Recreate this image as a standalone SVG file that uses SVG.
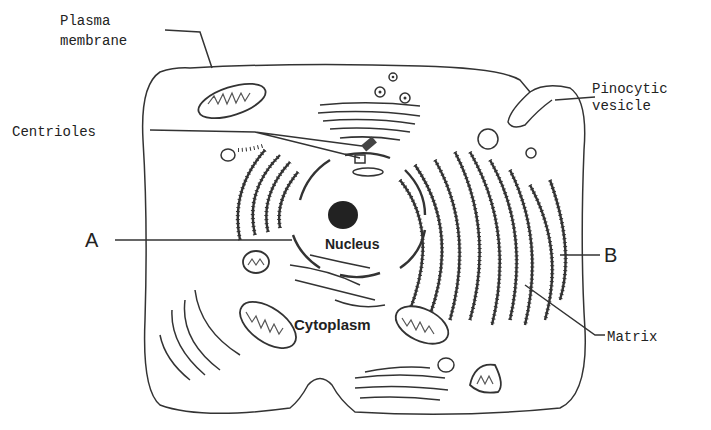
<svg xmlns="http://www.w3.org/2000/svg" width="711" height="430" viewBox="0 0 711 430">
<style>
.l{fill:none;stroke:#333;stroke-width:1.5}
.t{fill:#222;font-family:"Liberation Mono",monospace;font-size:14px}
.er{fill:none;stroke:#333;stroke-width:2.4}
.rb{fill:none;stroke:#333;stroke-width:4;stroke-dasharray:1 3}
.mi{fill:#fff;stroke:#333;stroke-width:1.8}
.cr{fill:none;stroke:#555;stroke-width:1.2}
</style>
<rect width="711" height="430" fill="#fff"/>
<g id="cell">
<path class="l" d="M190,68 Q300,62 420,66 Q500,68 520,80 L530,92 Q545,82 570,88 Q588,100 584,150 Q580,250 585,330 Q588,395 560,408 Q460,418 355,412 Q340,400 332,385 Q320,372 308,385 Q300,400 290,408 Q200,420 160,405 Q142,390 145,320 Q148,220 143,140 Q140,85 160,72 Q175,67 190,68 Z"/>
<path class="l" d="M530,92 Q510,110 508,122 Q512,130 525,125 Q538,110 552,100"/>
</g>
<g id="nucleus">
<path class="er" d="M300,200 A70,70 0 0 1 330,160 M345,155 Q370,150 390,158 M405,170 Q425,190 425,215 M425,230 Q420,255 400,268 M380,273 Q360,280 340,275 M320,268 Q300,255 293,235"/>
<ellipse cx="343" cy="215" rx="15" ry="14" fill="#222"/>
</g>
<g id="golgi">
<path class="l" d="M320,105 Q370,100 420,106 M318,113 Q370,109 420,116 M323,121 Q370,117 415,124 M330,129 Q370,126 410,132 M340,138 Q370,135 400,140"/>
<circle class="l" cx="380" cy="92" r="5"/><circle class="l" cx="405" cy="98" r="5"/><circle class="l" cx="393" cy="77" r="4"/>
<circle cx="380" cy="92" r="1.5" fill="#333"/><circle cx="405" cy="98" r="1.5" fill="#333"/><circle cx="393" cy="77" r="1.3" fill="#333"/>
</g>
<g id="centrioles">
<rect x="362" y="140" width="14" height="8" transform="rotate(-40 369 144)" fill="#444"/>
<rect x="355" y="155" width="10" height="8" class="l"/>
</g>
<g id="er-left">
<path class="rb" d="M240,240 Q230,190 265,150 M255,235 Q245,190 280,155 M268,232 Q260,195 290,162 M280,228 Q275,200 298,172 M238,150 Q250,150 265,145"/>
<path class="er" d="M240,240 Q230,190 265,150 M255,235 Q245,190 280,155 M268,232 Q260,195 290,162 M280,228 Q275,200 298,172"/>
</g>
<g id="er-right">
<path class="rb" d="M400,180 Q440,230 410,310 M415,165 Q460,230 430,315 M435,160 Q475,230 450,320 M455,152 Q495,230 470,320 M470,152 Q515,230 492,325 M490,160 Q530,230 510,320 M510,170 Q545,240 525,325 M530,185 Q565,250 545,320 M550,180 Q575,250 560,300"/>
<path class="er" d="M400,180 Q440,230 410,310 M415,165 Q460,230 430,315 M435,160 Q475,230 450,320 M455,152 Q495,230 470,320 M470,152 Q515,230 492,325 M490,160 Q530,230 510,320 M510,170 Q545,240 525,325 M530,185 Q565,250 545,320 M550,180 Q575,250 560,300"/>
</g>
<g id="er-smooth">
<path class="l" d="M290,265 Q330,270 360,285 M295,280 Q335,290 375,300 M310,255 Q340,262 370,268 M335,300 Q360,310 385,305 M185,300 Q180,340 220,370 M172,310 Q170,345 205,375 M195,290 Q200,330 240,355 M160,335 Q165,360 190,380 M355,378 Q400,372 445,378 M355,388 Q400,384 448,390 M360,398 Q400,395 440,400 M365,372 Q400,365 430,368"/>
</g>
<g id="mitochondria">
<ellipse class="mi" cx="232" cy="101" rx="35" ry="14" transform="rotate(-18 232 101)"/>
<path class="cr" d="M208,104 l6,-8 l4,8 l5,-10 l4,10 l5,-11 l4,10 l5,-10 l4,8 l5,-8"/>
<ellipse class="mi" cx="268" cy="325" rx="32" ry="17" transform="rotate(35 268 325)"/>
<path class="cr" d="M246,312 l6,10 l4,-6 l5,12 l4,-8 l5,12 l4,-8 l5,10 l4,-6"/>
<ellipse class="mi" cx="422" cy="325" rx="28" ry="16" transform="rotate(25 422 325)"/>
<path class="cr" d="M402,318 l5,8 l4,-6 l5,10 l4,-8 l5,10 l4,-6 l5,8"/>
<ellipse class="mi" cx="256" cy="262" rx="13" ry="11"/>
<path class="cr" d="M248,265 l4,-6 l4,6 l4,-6 l4,6"/>
<path class="mi" d="M470,385 Q475,362 495,365 Q505,385 498,392 Q480,395 470,385 Z"/>
<path class="cr" d="M477,384 l4,-8 l4,8 l4,-8 l4,8"/>
</g>
<g id="vesicles">
<circle class="l" cx="488" cy="139" r="10"/>
<ellipse class="l" cx="228" cy="155" rx="7" ry="6"/>
<ellipse class="l" cx="531" cy="153" rx="5" ry="5"/>
<ellipse class="l" cx="446" cy="365" rx="8" ry="7"/>
<ellipse class="l" cx="368" cy="172" rx="15" ry="4"/>
</g>
<g id="connectors" class="l">
<path d="M165,30 L200,32 L212,68"/>
<path d="M555,100 L595,97"/>
<path d="M150,130 L255,132 L360,158 M255,132 L362,146"/>
<path d="M115,240 L292,240"/>
<path d="M560,255 L600,255"/>
<path d="M525,285 L595,335 L605,335"/>
</g>
<g id="labels">
<text class="t" x="60" y="25">Plasma</text>
<text class="t" x="60" y="45">membrane</text>
<text class="t" x="592" y="93">Pinocytic</text>
<text class="t" x="592" y="110">vesicle</text>
<text class="t" x="12" y="136">Centrioles</text>
<text x="85" y="247" font-family="Liberation Sans,sans-serif" font-size="20" fill="#222">A</text>
<text x="604" y="262" font-family="Liberation Sans,sans-serif" font-size="20" fill="#222">B</text>
<text x="325" y="249" font-family="Liberation Sans,sans-serif" font-size="14" font-weight="bold" fill="#222">Nucleus</text>
<text x="294" y="330" font-family="Liberation Sans,sans-serif" font-size="15" font-weight="bold" fill="#222">Cytoplasm</text>
<text class="t" x="607" y="341">Matrix</text>
</g>
</svg>
